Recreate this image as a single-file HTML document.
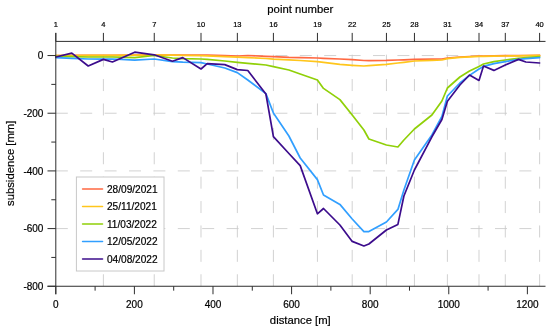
<!DOCTYPE html><html><head><meta charset="utf-8"><title>chart</title><style>html,body{margin:0;padding:0;background:#fff}svg{display:block}text{font-family:"Liberation Sans",Arial,sans-serif;fill:#000;stroke:#000;stroke-width:0.2px}</style></head><body>
<svg width="550" height="331" viewBox="0 0 550 331">
<rect width="550" height="331" fill="#fff"/>
<g stroke="#cacaca" stroke-width="0.85" stroke-dasharray="12 12.4" fill="none"><line x1="103.4" y1="286.26" x2="103.4" y2="41.4"/><line x1="154.25" y1="286.26" x2="154.25" y2="41.4"/><line x1="201.0" y1="286.26" x2="201.0" y2="41.4"/><line x1="237.35" y1="286.26" x2="237.35" y2="41.4"/><line x1="273.4" y1="286.26" x2="273.4" y2="41.4"/><line x1="317.45" y1="286.26" x2="317.45" y2="41.4"/><line x1="352.2" y1="286.26" x2="352.2" y2="41.4"/><line x1="386.45" y1="286.26" x2="386.45" y2="41.4"/><line x1="414.45" y1="286.26" x2="414.45" y2="41.4"/><line x1="447.4" y1="286.26" x2="447.4" y2="41.4"/><line x1="479.0" y1="286.26" x2="479.0" y2="41.4"/><line x1="505.3" y1="286.26" x2="505.3" y2="41.4"/><line x1="539.6" y1="286.26" x2="539.6" y2="41.4"/><line x1="55.8" y1="55.55" x2="539.6" y2="55.55"/><line x1="55.8" y1="113.23" x2="539.6" y2="113.23"/><line x1="55.8" y1="170.91" x2="539.6" y2="170.91"/><line x1="55.8" y1="228.59" x2="539.6" y2="228.59"/></g>
<polyline points="55.8,55.5 71.8,55.4 88.2,55.4 103.4,55.3 112.4,55.3 134.7,55.2 154.2,55.2 172.4,55.1 182.8,55.1 201.0,55.0 207.2,55.2 224.8,55.7 237.3,56.0 247.8,55.5 265.9,56.3 273.4,56.6 288.9,57.4 300.2,57.6 317.4,58.0 323.5,58.3 339.9,59.0 352.2,59.6 363.9,60.5 368.9,60.6 386.4,60.4 397.9,60.0 403.9,59.8 414.4,59.4 431.9,59.1 441.9,59.0 447.4,58.0 459.9,57.0 469.5,56.5 479.0,56.0 483.5,56.0 493.9,55.9 505.3,55.7 518.5,55.6 525.9,55.5 539.6,55.4" fill="none" stroke="#ff6841" stroke-width="1.7" stroke-linejoin="round" stroke-linecap="round"/>
<polyline points="55.8,55.6 71.8,55.5 88.2,55.4 103.4,55.3 112.4,55.3 134.7,55.1 154.2,55.0 172.4,55.2 182.8,55.4 201.0,55.6 207.2,55.9 224.8,56.7 237.3,57.2 247.8,57.6 265.9,58.5 273.4,59.1 288.9,59.9 300.2,60.5 317.4,61.6 323.5,62.3 339.9,64.3 352.2,65.3 363.9,66.0 368.9,65.6 386.4,64.4 397.9,63.0 403.9,62.3 414.4,61.0 431.9,60.4 441.9,60.0 447.4,58.6 459.9,57.4 469.5,56.9 479.0,56.4 483.5,56.3 493.9,56.2 505.3,56.0 518.5,55.8 525.9,55.6 539.6,55.4" fill="none" stroke="#ffc61c" stroke-width="1.7" stroke-linejoin="round" stroke-linecap="round"/>
<polyline points="55.8,56.4 71.8,56.6 88.2,57.0 103.4,57.0 112.4,57.0 134.7,57.6 154.2,55.5 172.4,58.0 182.8,58.6 201.0,59.0 207.2,59.4 224.8,61.0 237.3,62.4 247.8,63.4 265.9,65.0 273.4,66.6 288.9,70.0 300.2,74.0 317.4,80.0 323.5,88.4 339.9,99.6 352.2,115.0 363.9,130.0 368.9,139.0 386.4,145.0 397.9,147.0 403.9,140.0 414.4,129.0 431.9,115.0 441.9,101.0 447.4,88.0 459.9,77.0 469.5,71.0 479.0,66.4 483.5,64.0 493.9,61.6 505.3,60.0 518.5,58.4 525.9,57.6 539.6,56.6" fill="none" stroke="#90d008" stroke-width="1.7" stroke-linejoin="round" stroke-linecap="round"/>
<polyline points="55.8,57.6 71.8,58.4 88.2,59.0 103.4,59.2 112.4,59.0 134.7,60.2 154.2,59.0 172.4,61.6 182.8,62.2 201.0,62.6 207.2,64.0 224.8,68.0 237.3,72.6 247.8,80.0 265.9,93.6 273.4,113.0 288.9,136.0 300.2,158.0 317.4,179.6 323.5,195.0 339.9,204.4 352.2,219.0 363.9,231.6 368.9,231.6 386.4,222.0 397.9,209.4 403.9,190.0 414.4,160.0 431.9,135.0 441.9,116.5 447.4,96.0 459.9,83.0 469.5,75.4 479.0,69.0 483.5,66.4 493.9,63.6 505.3,61.6 518.5,59.4 525.9,58.6 539.6,57.6" fill="none" stroke="#319fff" stroke-width="1.7" stroke-linejoin="round" stroke-linecap="round"/>
<polyline points="55.8,57.0 71.8,53.2 88.2,66.0 103.4,59.4 112.4,62.0 134.7,52.2 154.2,54.8 172.4,61.2 182.8,57.6 201.0,69.0 207.2,63.6 224.8,64.6 237.3,69.6 247.8,70.5 265.9,94.0 273.4,136.6 288.9,153.5 300.2,165.6 317.4,213.8 323.5,208.5 339.9,225.0 352.2,241.4 363.9,246.0 368.9,244.0 386.4,230.0 397.9,224.4 403.9,196.0 414.4,170.0 431.9,136.8 441.9,119.5 447.4,101.3 459.9,85.0 469.5,75.0 479.0,80.4 483.5,66.0 493.9,70.4 505.3,65.0 518.5,59.4 525.9,62.0 539.6,63.0" fill="none" stroke="#3c0c8c" stroke-width="1.7" stroke-linejoin="round" stroke-linecap="round"/>
<g stroke="#2e2e2e" stroke-width="1" fill="none"><line x1="55.8" y1="32.9" x2="55.8" y2="294.26"/><line x1="47.5" y1="41.4" x2="545.5" y2="41.4" stroke-opacity="0"/><line x1="55.8" y1="41.4" x2="545.5" y2="41.4"/><line x1="47.5" y1="286.26" x2="545.5" y2="286.26"/><line x1="55.8" y1="32.9" x2="55.8" y2="41.4"/><line x1="103.4" y1="32.9" x2="103.4" y2="41.4"/><line x1="154.25" y1="32.9" x2="154.25" y2="41.4"/><line x1="201.0" y1="32.9" x2="201.0" y2="41.4"/><line x1="237.35" y1="32.9" x2="237.35" y2="41.4"/><line x1="273.4" y1="32.9" x2="273.4" y2="41.4"/><line x1="317.45" y1="32.9" x2="317.45" y2="41.4"/><line x1="352.2" y1="32.9" x2="352.2" y2="41.4"/><line x1="386.45" y1="32.9" x2="386.45" y2="41.4"/><line x1="414.45" y1="32.9" x2="414.45" y2="41.4"/><line x1="447.4" y1="32.9" x2="447.4" y2="41.4"/><line x1="479.0" y1="32.9" x2="479.0" y2="41.4"/><line x1="505.3" y1="32.9" x2="505.3" y2="41.4"/><line x1="539.6" y1="32.9" x2="539.6" y2="41.4"/><line x1="55.80" y1="286.26" x2="55.80" y2="294.26"/><line x1="95.10" y1="286.26" x2="95.10" y2="290.65999999999997"/><line x1="134.40" y1="286.26" x2="134.40" y2="294.26"/><line x1="173.69" y1="286.26" x2="173.69" y2="290.65999999999997"/><line x1="212.99" y1="286.26" x2="212.99" y2="294.26"/><line x1="252.29" y1="286.26" x2="252.29" y2="290.65999999999997"/><line x1="291.59" y1="286.26" x2="291.59" y2="294.26"/><line x1="330.89" y1="286.26" x2="330.89" y2="290.65999999999997"/><line x1="370.19" y1="286.26" x2="370.19" y2="294.26"/><line x1="409.49" y1="286.26" x2="409.49" y2="290.65999999999997"/><line x1="448.78" y1="286.26" x2="448.78" y2="294.26"/><line x1="488.08" y1="286.26" x2="488.08" y2="290.65999999999997"/><line x1="527.38" y1="286.26" x2="527.38" y2="294.26"/><line x1="47.5" y1="55.55" x2="55.8" y2="55.55"/><line x1="51.3" y1="84.39" x2="55.8" y2="84.39"/><line x1="47.5" y1="113.23" x2="55.8" y2="113.23"/><line x1="51.3" y1="142.07" x2="55.8" y2="142.07"/><line x1="47.5" y1="170.91" x2="55.8" y2="170.91"/><line x1="51.3" y1="199.75" x2="55.8" y2="199.75"/><line x1="47.5" y1="228.59" x2="55.8" y2="228.59"/><line x1="51.3" y1="257.43" x2="55.8" y2="257.43"/><line x1="47.5" y1="286.27" x2="55.8" y2="286.27"/></g>
<text x="55.8" y="27.3" font-size="7.5" text-anchor="middle">1</text><text x="103.4" y="27.3" font-size="7.5" text-anchor="middle">4</text><text x="154.25" y="27.3" font-size="7.5" text-anchor="middle">7</text><text x="201.0" y="27.3" font-size="7.5" text-anchor="middle">10</text><text x="237.35" y="27.3" font-size="7.5" text-anchor="middle">13</text><text x="273.4" y="27.3" font-size="7.5" text-anchor="middle">16</text><text x="317.45" y="27.3" font-size="7.5" text-anchor="middle">19</text><text x="352.2" y="27.3" font-size="7.5" text-anchor="middle">22</text><text x="386.45" y="27.3" font-size="7.5" text-anchor="middle">25</text><text x="414.45" y="27.3" font-size="7.5" text-anchor="middle">28</text><text x="447.4" y="27.3" font-size="7.5" text-anchor="middle">31</text><text x="479.0" y="27.3" font-size="7.5" text-anchor="middle">34</text><text x="505.3" y="27.3" font-size="7.5" text-anchor="middle">37</text><text x="539.6" y="27.3" font-size="7.5" text-anchor="middle">40</text><text x="55.8" y="308" font-size="10" text-anchor="middle">0</text><text x="134.4" y="308" font-size="10" text-anchor="middle">200</text><text x="213.0" y="308" font-size="10" text-anchor="middle">400</text><text x="291.6" y="308" font-size="10" text-anchor="middle">600</text><text x="370.2" y="308" font-size="10" text-anchor="middle">800</text><text x="448.8" y="308" font-size="10" text-anchor="middle">1000</text><text x="527.4" y="308" font-size="10" text-anchor="middle">1200</text><text x="43.4" y="59.1" font-size="10" text-anchor="end">0</text><text x="43.4" y="116.8" font-size="10" text-anchor="end">-200</text><text x="43.4" y="174.5" font-size="10" text-anchor="end">-400</text><text x="43.4" y="232.2" font-size="10" text-anchor="end">-600</text><text x="43.4" y="289.9" font-size="10" text-anchor="end">-800</text><text x="300.3" y="13.4" font-size="11.3" text-anchor="middle">point number</text><text x="300.3" y="324.4" font-size="11.3" text-anchor="middle">distance [m]</text><text transform="translate(14.0,163.3) rotate(-90)" font-size="11.3" text-anchor="middle">subsidence [mm]</text>
<rect x="76.4" y="177" width="87.6" height="94" fill="#fff" stroke="#c8c8c8" stroke-width="1"/>
<line x1="82.6" y1="189.0" x2="102.5" y2="189.0" stroke="#ff6841" stroke-width="1.6" stroke-linecap="round"/>
<text x="107" y="192.6" font-size="10.1">28/09/2021</text>
<line x1="82.6" y1="206.5" x2="102.5" y2="206.5" stroke="#ffc61c" stroke-width="1.6" stroke-linecap="round"/>
<text x="107" y="210.1" font-size="10.1">25/11/2021</text>
<line x1="82.6" y1="224.0" x2="102.5" y2="224.0" stroke="#90d008" stroke-width="1.6" stroke-linecap="round"/>
<text x="107" y="227.6" font-size="10.1">11/03/2022</text>
<line x1="82.6" y1="241.5" x2="102.5" y2="241.5" stroke="#319fff" stroke-width="1.6" stroke-linecap="round"/>
<text x="107" y="245.1" font-size="10.1">12/05/2022</text>
<line x1="82.6" y1="259.0" x2="102.5" y2="259.0" stroke="#3c0c8c" stroke-width="1.6" stroke-linecap="round"/>
<text x="107" y="262.6" font-size="10.1">04/08/2022</text>
</svg></body></html>
